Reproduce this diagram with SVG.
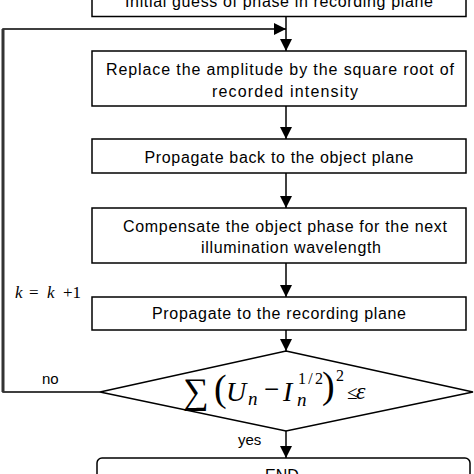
<svg xmlns="http://www.w3.org/2000/svg" width="474" height="474" viewBox="0 0 474 474">
<style>
.box{fill:#fff;stroke:#000;stroke-width:1.5}
.t{font-family:"Liberation Sans",Arial,sans-serif;font-size:16px;fill:#000;text-anchor:middle}
.lbl{font-family:"Liberation Sans",Arial,sans-serif;font-size:15px;fill:#000}
.m{font-family:"Liberation Serif","Times New Roman",serif;fill:#000}
.i{font-style:italic}
.c{fill:none;stroke:#000;stroke-width:1.5}
</style>
<defs>
<marker id="ah" markerUnits="userSpaceOnUse" markerWidth="14" markerHeight="12" refX="12" refY="6" orient="auto">
<path d="M0,0 L12,6 L0,12 Z" fill="#000"/>
</marker>
</defs>
<rect width="474" height="474" fill="#fff"/>
<g id="connectors">
<line class="c" x1="286" y1="16" x2="286" y2="51" marker-end="url(#ah)"/>
<polyline class="c" points="100,392 3,392 3,29 286,29" marker-end="url(#ah)"/>
<line x1="3" y1="29" x2="3" y2="392" stroke="#333" stroke-width="3"/>
<line class="c" x1="286" y1="106" x2="286" y2="139" marker-end="url(#ah)"/>
<line class="c" x1="286" y1="173" x2="286" y2="208" marker-end="url(#ah)"/>
<line class="c" x1="286" y1="263" x2="286" y2="297" marker-end="url(#ah)"/>
<line class="c" x1="286" y1="330" x2="286" y2="351" marker-end="url(#ah)"/>
<line class="c" x1="286" y1="431" x2="286" y2="458" marker-end="url(#ah)"/>
<text class="lbl" x="42" y="384">no</text>
<text class="lbl" x="238" y="445">yes</text>
<text class="m i" x="15" y="298" font-size="17">k</text>
<text class="m" x="29" y="298" font-size="17">=</text>
<text class="m i" x="47" y="298" font-size="17">k</text>
<text class="m" x="63" y="298" font-size="17">+1</text>
</g>
<g id="n1">
<rect class="box" x="92" y="-20" width="374" height="36.5"/>
<text class="t" x="279" y="7" textLength="308">Initial guess of phase in recording plane</text>
</g>
<g id="n2">
<rect class="box" x="92" y="51" width="374" height="55"/>
<text class="t" x="280" y="75" textLength="348">Replace the amplitude by the square root of</text>
<text class="t" x="285" y="97" textLength="146">recorded intensity</text>
</g>
<g id="n3">
<rect class="box" x="92" y="139" width="374" height="34"/>
<text class="t" x="279" y="163" textLength="269">Propagate back to the object plane</text>
</g>
<g id="n4">
<rect class="box" x="92" y="208" width="374" height="55"/>
<text class="t" x="285" y="232" textLength="324">Compensate the object phase for the next</text>
<text class="t" x="291" y="253" textLength="180">illumination wavelength</text>
</g>
<g id="n5">
<rect class="box" x="92" y="297" width="374" height="33"/>
<text class="t" x="279" y="319" textLength="254">Propagate to the recording plane</text>
</g>
<g id="n6">
<polygon class="box" points="286,351 473,392 286,431 100,392"/>
<text class="m" x="183" y="403" font-size="36">∑</text>
<text class="m" x="214" y="401" font-size="38">(</text>
<text class="m i" x="226" y="401" font-size="28">U</text>
<text class="m i" x="248" y="405" font-size="19">n</text>
<text class="m" x="264" y="398" font-size="27">−</text>
<text class="m i" x="283" y="401" font-size="28">I</text>
<text class="m i" x="297" y="406" font-size="19">n</text>
<text class="m" x="298" y="384" font-size="16" textLength="25">1/2</text>
<text class="m" x="322" y="398" font-size="38">)</text>
<text class="m" x="336" y="381" font-size="16">2</text>
<text class="m" x="347" y="399" font-size="19">≤</text>
<text class="m i" x="356" y="399" font-size="24">ε</text>
</g>
<g id="n7">
<rect class="box" x="97" y="458" width="373" height="40" rx="5"/>
<text class="t" x="282" y="481">END</text>
</g>
</svg>
